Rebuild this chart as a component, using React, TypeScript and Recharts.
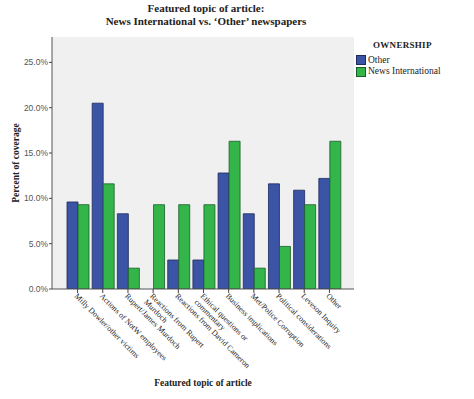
import React from 'react';
import { BarChart, Bar, XAxis, YAxis, CartesianGrid } from 'recharts';

const categories = [
  'Milly Dowler/other victims',
  'Actions of NotW employees',
  'Rupert/James Murdoch',
  'Reactions from Rupert\nMurdoch',
  'Reactions from David Cameron',
  'Ethical questions or\ncommentary',
  'Business implications',
  'Met/Police Corruption',
  'Political considerations',
  'Leveson Inquiry',
  'Other',
];
const otherValues = [9.6, 20.5, 8.3, 0, 3.2, 3.2, 12.8, 8.3, 11.6, 10.9, 12.2];
const newsIntlValues = [9.3, 11.6, 2.3, 9.3, 9.3, 9.3, 16.3, 2.3, 4.7, 9.3, 16.3];
const yTicks = [0, 5, 10, 15, 20, 25];
const seriesNames = ['Other', 'News International'];

const data = categories.map((c, i) => ({
  topic: c,
  other: otherValues[i],
  news: newsIntlValues[i],
}));

const BLUE = '#3b54a6';
const GREEN = '#33b54a';
const BLUE_STROKE = '#1d2a5c';
const GREEN_STROKE = '#1b5e2a';
const SERIF = '"Liberation Serif", "DejaVu Serif", serif';
const SANS = '"Liberation Sans", Arial, sans-serif';

const XTick = (props: any) => {
  const { x, y, payload } = props;
  const lines = String(payload.value).split('\n');
  return (
    <g transform={`translate(${x},${y}) rotate(45)`}>
      <text x={0} y={0} textAnchor="start" fontFamily={SERIF} fontSize={8} fill="#222">
        {lines.map((l: string, i: number) => (
          <tspan key={i} x={0} dy={i === 0 ? 5 : 8.5}>
            {l}
          </tspan>
        ))}
      </text>
    </g>
  );
};

const YLabel = (props: any) => {
  const vb = props.viewBox || {};
  const cx = 16;
  const cy = (vb.y || 0) + (vb.height || 0) / 2;
  return (
    <text
      x={cx}
      y={cy}
      transform={`rotate(-90 ${cx} ${cy})`}
      textAnchor="middle"
      dominantBaseline="central"
      fontFamily={SERIF}
      fontWeight="bold"
      fontSize={9.5}
      fill="#222"
    >
      Percent of coverage
    </text>
  );
};

export default function App() {
  const colors = [
    { fill: BLUE, stroke: BLUE_STROKE },
    { fill: GREEN, stroke: GREEN_STROKE },
  ];
  return (
    <div style={{ position: 'absolute', left: 0, top: 0, width: 474, height: 399, background: '#fff' }}>
      <div
        style={{
          position: 'absolute',
          left: 0,
          width: 412,
          top: 2,
          textAlign: 'center',
          fontFamily: SERIF,
          fontWeight: 'bold',
          fontSize: 11,
          lineHeight: '13px',
          color: '#222',
        }}
      >
        Featured topic of article:
        <br />
        News International vs. ‘Other’ newspapers
      </div>
      <div
        style={{
          position: 'absolute',
          left: 356,
          top: 40,
          fontFamily: SERIF,
          fontSize: 9.5,
          color: '#222',
          lineHeight: '11.5px',
        }}
      >
        <div style={{ fontWeight: 'bold', fontSize: 9, marginLeft: 17, marginBottom: 3, letterSpacing: 0.3 }}>OWNERSHIP</div>
        {seriesNames.map((name, i) => (
          <div key={name} style={{ display: 'flex', alignItems: 'center' }}>
            <span
              style={{
                display: 'inline-block',
                width: 8,
                height: 8,
                background: colors[i].fill,
                border: `1px solid ${colors[i].stroke}`,
                marginRight: 2,
              }}
            />
            <span>{name}</span>
          </div>
        ))}
      </div>
      <div style={{ position: 'absolute', left: 0, top: 0 }}>
        <BarChart
          width={474}
          height={399}
          data={data}
          margin={{ top: 37, right: 120, bottom: 0, left: 0 }}
          barCategoryGap={2}
          barGap={0}
        >
          <CartesianGrid fill="#f0f0f0" horizontal={false} vertical={false} />
          <XAxis
            dataKey="topic"
            interval={0}
            height={110}
            padding={{ left: 13, right: 12 }}
            tick={<XTick />}
            tickSize={4}
            tickMargin={0}
            tickLine={{ stroke: '#444' }}
            axisLine={{ stroke: '#555' }}
            label={{
              value: 'Featured topic of article',
              position: 'insideBottom',
              offset: 13,
              style: { fontFamily: SERIF, fontWeight: 'bold', fontSize: 9.5, fill: '#222' },
            }}
          />
          <XAxis xAxisId="top" dataKey="topic" orientation="top" height={0} tick={false} tickLine={false} axisLine={{ stroke: '#888' }} />
          <YAxis
            width={52}
            domain={[0, 27.8]}
            ticks={yTicks}
            allowDataOverflow
            tickFormatter={(v: number) => v.toFixed(1) + '%'}
            tickSize={3}
            tickMargin={1}
            tickLine={{ stroke: '#444' }}
            axisLine={{ stroke: '#555' }}
            tick={{ fontFamily: SANS, fontSize: 8.5, fill: '#555' }}
            label={<YLabel />}
          />
          <YAxis yAxisId="right" orientation="right" width={0} tick={false} tickLine={false} axisLine={{ stroke: '#888' }} domain={[0, 27.8]} />
          <Bar dataKey="other" name={seriesNames[0]} fill={BLUE} stroke={BLUE_STROKE} strokeWidth={0.8} isAnimationActive={false} />
          <Bar dataKey="news" name={seriesNames[1]} fill={GREEN} stroke={GREEN_STROKE} strokeWidth={0.8} isAnimationActive={false} />
        </BarChart>
      </div>
    </div>
  );
}
